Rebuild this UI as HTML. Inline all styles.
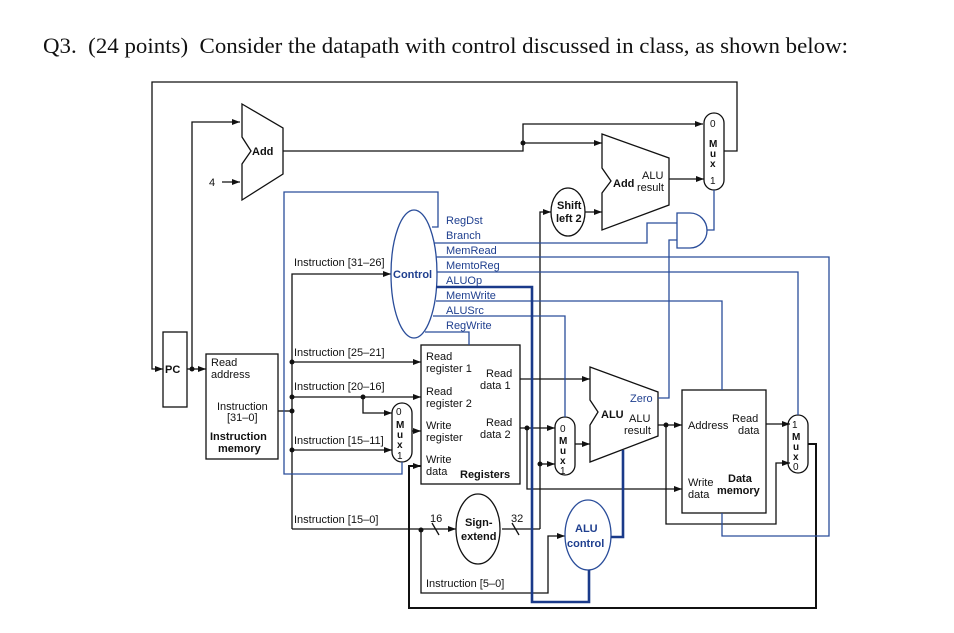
<!DOCTYPE html>
<html><head><meta charset="utf-8"><style>
html,body{margin:0;padding:0;background:#fff;}
svg{display:block;}
text{font-family:"Liberation Sans",sans-serif;font-size:11px;fill:#111;}
.b{font-weight:bold;}
.bl{fill:#1f3f8f;}
</style></head><body>
<svg width="954" height="633" viewBox="0 0 954 633" xmlns="http://www.w3.org/2000/svg">
<defs>
<marker id="a" markerWidth="8" markerHeight="6" refX="8" refY="3" orient="auto" markerUnits="userSpaceOnUse"><path d="M0,0 L8,3 L0,6 z" fill="#111"/></marker>
</defs>
<rect width="954" height="633" fill="#fff"/>
<text x="43" y="53" style="font-family:'Liberation Serif',serif;font-size:22px;white-space:pre" textLength="805" lengthAdjust="spacingAndGlyphs">Q3.  (24 points)  Consider the datapath with control discussed in class, as shown below:</text>

<g fill="none" stroke="#111" stroke-width="1.3">
<polyline points="724,151 737,151 737,82 152,82 152,369 163,369" marker-end="url(#a)"/>
<rect x="163" y="332" width="24" height="75"/>
<line x1="187" y1="369" x2="206" y2="369" marker-end="url(#a)"/>
<polyline points="192,369 192,122 240,122" marker-end="url(#a)"/>
<rect x="206" y="354" width="72" height="105"/>
<polygon points="242,104 283,128 283,174 242,200 242,164 251,151 242,137"/>
<line x1="222" y1="182" x2="240" y2="182" marker-end="url(#a)"/>
<polyline points="283,151 523,151 523,124 703,124" marker-end="url(#a)"/>
<line x1="523" y1="143" x2="602" y2="143" marker-end="url(#a)"/>
<polygon points="602,134 669,158 669,205 602,230 602,193 611,181 602,168"/>
<line x1="669" y1="179" x2="704" y2="179" marker-end="url(#a)"/>
<rect x="704" y="113" width="20" height="77" rx="10"/>
<ellipse cx="568" cy="212" rx="17" ry="24"/>
<line x1="585" y1="212" x2="602" y2="212" marker-end="url(#a)"/>
<polyline points="540,529 540,212 551,212" marker-end="url(#a)"/>
<polyline points="278,411 292,411"/>
<polyline points="292,529 292,274 391,274" marker-end="url(#a)"/>
<line x1="292" y1="362" x2="421" y2="362" marker-end="url(#a)"/>
<line x1="292" y1="397" x2="421" y2="397" marker-end="url(#a)"/>
<polyline points="363,397 363,413 392,413" marker-end="url(#a)"/>
<line x1="292" y1="450" x2="392" y2="450" marker-end="url(#a)"/>
<line x1="292" y1="529" x2="456" y2="529" marker-end="url(#a)"/>
<line x1="432" y1="523" x2="439" y2="535"/>
<line x1="512" y1="523" x2="519" y2="535"/>
<line x1="502" y1="529" x2="540" y2="529"/>
<ellipse cx="478" cy="529" rx="22" ry="35"/>
<polyline points="421,530 421,593 548,593 548,536 565,536" marker-end="url(#a)"/>
<rect x="392" y="403" width="20" height="59" rx="10"/>
<line x1="412" y1="431" x2="421" y2="431" marker-end="url(#a)"/>
<rect x="421" y="345" width="99" height="139"/>
<line x1="520" y1="379" x2="590" y2="379" marker-end="url(#a)"/>
<line x1="520" y1="428" x2="555" y2="428" marker-end="url(#a)"/>
<polyline points="527,428 527,489 682,489" marker-end="url(#a)"/>
<line x1="540" y1="464" x2="555" y2="464" marker-end="url(#a)"/>
<rect x="555" y="417" width="20" height="58" rx="10"/>
<line x1="575" y1="444" x2="590" y2="444" marker-end="url(#a)"/>
<polygon points="590,367 658,392 658,436 590,462 590,425 598,412 590,400"/>
<line x1="658" y1="425" x2="682" y2="425" marker-end="url(#a)"/>
<polyline points="666,425 666,524 776,524 776,463 790,463" marker-end="url(#a)"/>
<rect x="682" y="390" width="84" height="123"/>
<line x1="766" y1="424" x2="790" y2="424" marker-end="url(#a)"/>
<rect x="788" y="415" width="20" height="58" rx="10"/>
<polyline points="808,444 816,444 816,608 409,608 409,466 421,466" marker-end="url(#a)" stroke-width="2"/>
</g>
<g fill="#111">
<circle cx="192" cy="369" r="2.5"/><circle cx="523" cy="143" r="2.5"/>
<circle cx="292" cy="362" r="2.5"/><circle cx="292" cy="397" r="2.5"/><circle cx="292" cy="411" r="2.5"/><circle cx="292" cy="450" r="2.5"/>
<circle cx="363" cy="397" r="2.5"/><circle cx="421" cy="530" r="2.5"/>
<circle cx="527" cy="428" r="2.5"/><circle cx="540" cy="464" r="2.5"/><circle cx="666" cy="425" r="2.5"/>
</g>

<g fill="none" stroke="#2a4d9a" stroke-width="1.3">
<ellipse cx="414" cy="274" rx="23" ry="64"/>
<polyline points="432,227 438,227 438,192 284,192 284,474 402,474 402,462"/>
<polyline points="434,243 647,243 647,223 677,223"/>
<polyline points="658,398 669,398 669,240 677,240"/>
<path d="M677,213 L690,213 A17,17.5 0 0 1 690,248 L677,248 Z"/>
<polyline points="707,230 714,230 714,190"/>
<polyline points="436,257 829,257 829,536 722,536 722,513"/>
<polyline points="437,272 798,272 798,415"/>
<polyline points="436,301 722,301 722,390"/>
<polyline points="433,316 565,316 565,417"/>
<polyline points="425,332 469,332 469,345"/>
<ellipse cx="588" cy="535" rx="23" ry="35"/>
</g>
<g fill="none" stroke="#1a3a8a" stroke-width="2.6">
<polyline points="436,287 532,287 532,602 589,602 589,570"/>
<polyline points="611,537 623,537 623,450"/>
</g>

<text x="252" y="155" class="b">Add</text>
<text x="209" y="186">4</text>
<text x="165" y="373" class="b">PC</text>
<text x="211" y="366">Read</text><text x="211" y="378">address</text>
<text x="217" y="410">Instruction</text><text x="227" y="421">[31–0]</text>
<text x="210" y="440" class="b">Instruction</text><text x="218" y="452" class="b">memory</text>
<text x="294" y="266">Instruction [31–26]</text>
<text x="294" y="356">Instruction [25–21]</text>
<text x="294" y="390">Instruction [20–16]</text>
<text x="294" y="444">Instruction [15–11]</text>
<text x="294" y="523">Instruction [15–0]</text>
<text x="426" y="587">Instruction [5–0]</text>
<text x="393" y="278" class="b bl">Control</text>
<text x="446" y="224" class="bl">RegDst</text>
<text x="446" y="239" class="bl">Branch</text>
<text x="446" y="254" class="bl">MemRead</text>
<text x="446" y="269" class="bl">MemtoReg</text>
<text x="446" y="284" class="bl">ALUOp</text>
<text x="446" y="299" class="bl">MemWrite</text>
<text x="446" y="314" class="bl">ALUSrc</text>
<text x="446" y="329" class="bl">RegWrite</text>
<text x="426" y="360">Read</text><text x="426" y="372">register 1</text>
<text x="486" y="377">Read</text><text x="480" y="389">data 1</text>
<text x="426" y="395">Read</text><text x="426" y="407">register 2</text>
<text x="426" y="429">Write</text><text x="426" y="441">register</text>
<text x="486" y="426">Read</text><text x="480" y="438">data 2</text>
<text x="426" y="463">Write</text><text x="426" y="475">data</text>
<text x="460" y="478" class="b">Registers</text>
<text x="430" y="522">16</text><text x="511" y="522">32</text>
<text x="465" y="526" class="b">Sign-</text><text x="461" y="540" class="b">extend</text>
<text x="557" y="209" class="b">Shift</text><text x="556" y="222" class="b">left 2</text>
<text x="613" y="187" class="b">Add</text>
<text x="642" y="179">ALU</text><text x="637" y="191">result</text>
<text x="710" y="127" style="font-size:10px">0</text>
<text x="709" y="147" class="b" style="font-size:10px">M</text><text x="710" y="157" class="b" style="font-size:10px">u</text><text x="710" y="167" class="b" style="font-size:10px">x</text>
<text x="710" y="184" style="font-size:10px">1</text>
<text x="396" y="415" style="font-size:10px">0</text>
<text x="396" y="428" class="b" style="font-size:10px">M</text><text x="397" y="438" class="b" style="font-size:10px">u</text><text x="397" y="448" class="b" style="font-size:10px">x</text>
<text x="397" y="459" style="font-size:10px">1</text>
<text x="560" y="432" style="font-size:10px">0</text>
<text x="559" y="444" class="b" style="font-size:10px">M</text><text x="560" y="454" class="b" style="font-size:10px">u</text><text x="560" y="464" class="b" style="font-size:10px">x</text>
<text x="560" y="474" style="font-size:10px">1</text>
<text x="792" y="428" style="font-size:10px">1</text>
<text x="792" y="440" class="b" style="font-size:10px">M</text><text x="793" y="450" class="b" style="font-size:10px">u</text><text x="793" y="460" class="b" style="font-size:10px">x</text>
<text x="793" y="470" style="font-size:10px">0</text>
<text x="630" y="402" class="bl">Zero</text>
<text x="601" y="418" class="b">ALU</text>
<text x="629" y="422">ALU</text><text x="624" y="434">result</text>
<text x="688" y="429">Address</text>
<text x="732" y="422">Read</text><text x="738" y="434">data</text>
<text x="688" y="486">Write</text><text x="688" y="498">data</text>
<text x="728" y="482" class="b">Data</text><text x="717" y="494" class="b">memory</text>
<text x="575" y="532" class="b bl">ALU</text><text x="567" y="547" class="b bl">control</text>
</svg>
</body></html>
